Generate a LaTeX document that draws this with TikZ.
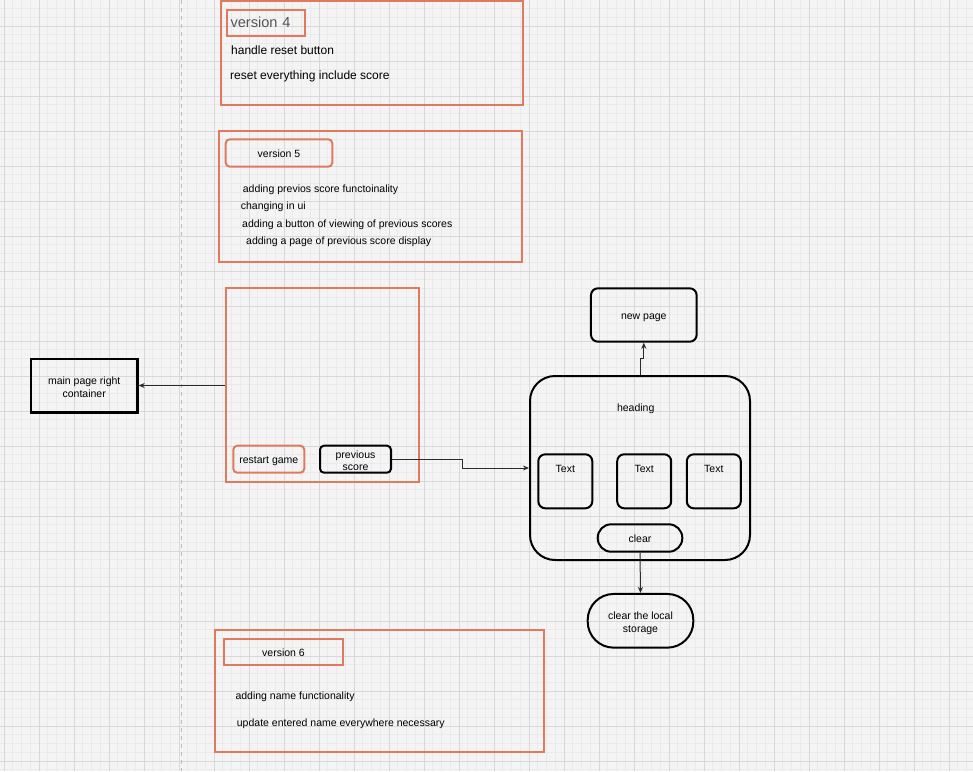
\documentclass[tikz,border=0pt]{standalone}
\usepackage{fontspec}
\setmainfont{Liberation Sans}
\usetikzlibrary{arrows.meta}
\definecolor{orng}{HTML}{E07A5F}
\definecolor{bgc}{HTML}{F4F4F4}
\definecolor{minorc}{HTML}{EAEAEA}
\definecolor{majorc}{HTML}{D8D8D8}
\definecolor{dashc}{HTML}{BDBDBD}
\definecolor{titlegray}{HTML}{555555}
\definecolor{linec}{HTML}{2B2B2B}
\newcommand\fsa{\fontsize{10.5}{12.7}\selectfont}
\newcommand\fsb{\fontsize{12}{14}\selectfont}
\newcommand\fsc{\fontsize{14.6}{17}\selectfont}
\begin{document}
\begin{tikzpicture}[x=1pt,y=-1pt,
  tl/.style={text height=9pt, text depth=0pt},
  tlb/.style={text height=11pt, text depth=0pt},
  obox/.style={draw=orng, line width=2pt, inner sep=0pt},
  bbox/.style={draw=black, line width=2pt, inner sep=0pt, align=center, font=\fsa},
  txt/.style={anchor=west, inner sep=0pt, font=\fsa, text=black, tl},
  mlabel/.style={anchor=center, yshift=-1.6pt, inner sep=0pt, align=center, font=\fsa},
  tlabel/.style={anchor=center, yshift=-16pt, inner sep=0pt, font=\fsa},
  conn/.style={draw=linec, line width=1pt, -{Stealth[length=6pt,width=5pt]}},
  minorl/.style={draw=minorc, line width=1pt},
  majorl/.style={draw=majorc, line width=1pt}
]
\useasboundingbox (0,0) rectangle (973,771);
\fill[bgc] (0,0) rectangle (973,771);
% grid
\foreach \i in {0,...,112} { \draw[minorl] ({4+8.75*(\i-1)},0) -- ({4+8.75*(\i-1)},771); }
\foreach \i in {0,...,90} { \draw[minorl] (0,{-9+8.75*\i}) -- (973,{-9+8.75*\i}); }
\foreach \i in {0,...,28} { \draw[majorl] ({4+35*\i},0) -- ({4+35*\i},771); }
\foreach \i in {0,...,23} { \draw[majorl] (0,{-9+35*\i}) -- (973,{-9+35*\i}); }
% dashed divider
\draw[dashc, line width=1pt, dash pattern=on 4pt off 4pt] (181,0) -- (181,771);

% version 4
\node[obox, minimum width=302pt, minimum height=104pt] (v4) at (372,53) {};
\node[obox, minimum width=77pt, minimum height=26pt, text width=70pt, inner xsep=4pt, align=left, font=\fsc, text=titlegray] (v4t) at (265.5,22.5) {version 4};
\node[txt, font=\fsb, tlb] (v4a) at (231,48.5) {handle reset button};
\node[txt, font=\fsb, tlb] (v4b) at (230,73.5) {reset everything include score};

% version 5
\node[obox, minimum width=303pt, minimum height=131pt] (v5) at (370.8,196.7) {};
\node[obox, rounded corners=4pt, minimum width=106.6pt, minimum height=27.4pt, font=\fsa, tl] (v5t) at (279,153) {version 5};
\node[txt] (v5a) at (242.7,188.3) {adding previos score functoinality};
\node[txt] (v5b) at (240.7,205) {changing in ui};
\node[txt] (v5c) at (242,222.7) {adding a button of viewing of previous scores};
\node[txt] (v5d) at (246,240) {adding a page of previous score display};

% main container area
\node[obox, minimum width=193.3pt, minimum height=193.4pt] (mainbox) at (322.7,385) {};
\node[bbox, line width=2.6pt, minimum width=106.3pt, minimum height=53.4pt, label={[mlabel]center:main page right\\container}] (mainc) at (84.2,385.5) {};
\node[obox, rounded corners=4pt, minimum width=71pt, minimum height=27pt, font=\fsa, tl] (restart) at (268.8,459.2) {restart game};
\node[bbox, rounded corners=4pt, minimum width=71pt, minimum height=27pt, label={[mlabel]center:previous\\score}] (prev) at (355.5,459.2) {};

% heading panel
\node[bbox, rounded corners=25pt, minimum width=220pt, minimum height=184pt] (hd) at (640,468) {};
\node[inner sep=0pt, font=\fsa, tl] (hdt) at (635.7,407) {heading};
\node[bbox, rounded corners=7pt, minimum width=105.7pt, minimum height=53.4pt, tl] (np) at (643.8,315) {new page};
\node[bbox, rounded corners=7pt, minimum width=54pt, minimum height=54pt, label={[tlabel]north:Text}] (t1) at (565.3,481.3) {};
\node[bbox, rounded corners=7pt, minimum width=54pt, minimum height=54pt, label={[tlabel]north:Text}] (t2) at (644.2,481.3) {};
\node[bbox, rounded corners=7pt, minimum width=54pt, minimum height=54pt, label={[tlabel]north:Text}] (t3) at (713.8,481.3) {};
\node[bbox, rounded corners=13.5pt, minimum width=84.6pt, minimum height=27.4pt, tl] (clr) at (640,538) {clear};
\node[bbox, rounded corners=26pt, minimum width=105.6pt, minimum height=53.7pt, label={[mlabel, yshift=-0.6pt]center:clear the local\\storage}] (cls) at (640.5,620.8) {};

% version 6
\node[obox, minimum width=329pt, minimum height=122.3pt] (v6) at (379.5,691.2) {};
\node[obox, minimum width=119.6pt, minimum height=26.3pt, font=\fsa, tl] (v6t) at (283.5,651.8) {version 6};
\node[txt] (v6a) at (235.3,695.3) {adding name functionality};
\node[txt] (v6b) at (236.7,722) {update entered name everywhere necessary};

% connectors
\draw[conn] (mainbox.west |- mainc.east) -- (mainc.east);
\draw[conn] (prev.east) -- ++(70.5,0) |- (hd.west);
\draw[conn] (hd.north) -- ++(0,-16.5) -| (np.south);
\draw[conn] (clr.south) -- (cls.north);
\end{tikzpicture}
\end{document}
